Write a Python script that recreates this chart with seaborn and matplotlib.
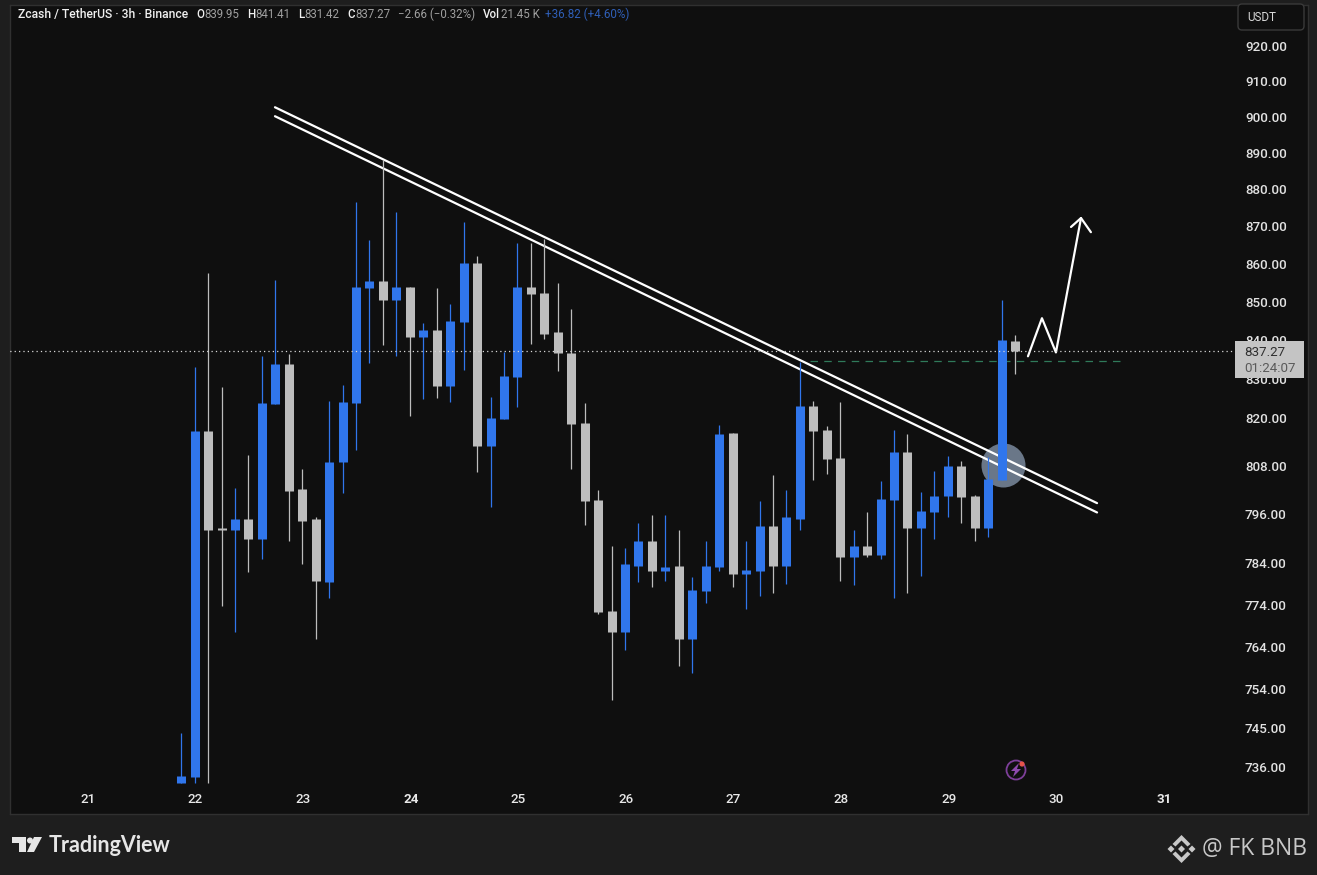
#!/usr/bin/env python3
import matplotlib
matplotlib.use("Agg")
import matplotlib.pyplot as plt
import numpy as np
import pandas as pd
import seaborn as sns
from matplotlib.patches import Circle, FancyBboxPatch, Polygon, Rectangle
from matplotlib.transforms import Affine2D

# 3h candles, day of month as a decimal
days = [21.875, 22.0, 22.125, 22.25, 22.375, 22.5, 22.625, 22.75, 22.875, 23.0, 23.125, 23.25, 23.375,
        23.5, 23.625, 23.75, 23.875, 24.0, 24.125, 24.25, 24.375, 24.5, 24.625, 24.75, 24.875, 25.0,
        25.125, 25.25, 25.375, 25.5, 25.625, 25.75, 25.875, 26.0, 26.125, 26.25, 26.375, 26.5, 26.625,
        26.75, 26.875, 27.0, 27.125, 27.25, 27.375, 27.5, 27.625, 27.75, 27.875, 28.0, 28.125, 28.25,
        28.375, 28.5, 28.625, 28.75, 28.875, 29.0, 29.125, 29.25, 29.375, 29.5, 29.625]
opens = [732.6, 734.0, 816.8, 792.6, 792.1, 794.8, 789.9, 823.6, 833.8, 802.3, 794.8, 779.5, 809.0,
         823.8, 853.7, 855.5, 850.5, 853.9, 841.0, 842.6, 828.2, 844.7, 860.3, 813.0, 819.8, 830.5,
         853.9, 852.4, 842.1, 836.7, 818.8, 799.5, 772.6, 767.6, 783.5, 789.6, 782.1, 783.5, 765.9,
         777.3, 783.3, 816.3, 781.6, 782.3, 793.1, 783.5, 795.0, 823.1, 817.0, 810.0, 785.5, 788.4,
         786.0, 799.5, 811.5, 792.8, 796.5, 800.5, 808.0, 800.5, 792.8, 804.5, 839.95]
highs = [744.1, 833.1, 857.6, 827.9, 802.5, 810.8, 835.9, 855.8, 836.4, 807.3, 795.5, 824.4, 828.5,
         876.8, 866.5, 888.1, 874.0, 853.9, 844.5, 853.7, 849.5, 871.4, 862.2, 825.4, 836.9, 865.7,
         865.7, 866.8, 855.0, 848.2, 823.8, 802.0, 788.2, 787.9, 794.0, 795.8, 795.8, 792.1, 780.7,
         789.6, 818.3, 816.3, 789.6, 799.3, 805.8, 802.0, 834.4, 824.4, 818.0, 824.1, 792.1, 796.5,
         804.3, 817.0, 816.0, 801.5, 806.8, 810.5, 809.3, 800.8, 810.3, 850.5, 841.41]
lows = [732.6, 732.6, 732.6, 773.8, 767.6, 781.9, 785.0, 823.6, 789.6, 784.0, 765.9, 775.7, 801.3,
        812.0, 834.1, 838.7, 835.9, 820.5, 825.0, 825.1, 824.1, 832.3, 806.5, 797.8, 819.8, 822.8,
        839.0, 840.5, 832.0, 807.3, 793.3, 771.9, 751.7, 763.3, 779.5, 778.3, 779.7, 759.6, 758.0,
        774.5, 782.1, 778.3, 773.0, 776.2, 776.9, 779.0, 792.1, 804.5, 806.0, 779.7, 778.8, 785.5,
        785.2, 775.7, 776.9, 780.9, 790.1, 795.5, 794.0, 789.4, 790.4, 804.5, 831.42]
closes = [734.2, 816.8, 792.3, 792.1, 794.8, 789.9, 823.8, 833.8, 801.8, 794.5, 779.7, 809.0, 824.1,
          853.9, 855.5, 850.5, 853.9, 841.0, 842.6, 828.2, 845.0, 860.3, 813.0, 820.0, 830.8, 853.9,
          852.1, 841.8, 836.7, 818.5, 799.3, 772.3, 767.6, 783.8, 789.4, 782.1, 783.3, 765.9, 777.6,
          783.5, 816.0, 781.6, 782.5, 793.1, 783.5, 795.3, 823.1, 816.8, 809.8, 785.7, 788.4, 786.2,
          799.8, 811.5, 792.8, 796.8, 800.5, 808.0, 800.3, 792.8, 804.8, 840.0, 837.27]

price_ticks = [920, 910, 900, 890, 880, 870, 860, 850, 840, 830, 820, 808, 796, 784, 774, 764, 754, 745, 736]
day_ticks = [21, 22, 23, 24, 25, 26, 27, 28, 29, 30, 31]

# drawings on the chart
trend_days = [22.747, 30.387]
trend_upper = [902.8, 798.8]
trend_lower = [900.3, 796.5]
path_days = [29.745, 29.875, 30.005, 30.238]
path_prices = [835.9, 845.8, 836.9, 872.4]
head_days = [30.145, 30.238, 30.33]
head_prices = [870.0, 872.4, 868.6]
level_days = [27.72, 30.63]
level_price = 834.6
last_price = 837.27
last_days = [20.2, 31.65]
circle_day = 29.51
circle_price = 808.2

BG = "#0f0f0f"
FRAME = "#1e1e1e"
BLUE = "#3076ec"
GREY = "#bdbdbd"

sns.set_theme(style="dark", rc={"axes.facecolor": BG, "figure.facecolor": FRAME})
plt.rcParams["font.family"] = ["Roboto", "DejaVu Sans"]

fig = plt.figure(figsize=(13.17, 8.75), dpi=100, facecolor=FRAME)
# pixel coordinates of the screenshot, for furniture only
px = Affine2D().scale(1, -1).translate(0, 875)
ax = fig.add_axes([10 / 1317, 1 - 814 / 875, 1298 / 1317, 809 / 875])
ax.set_yscale("log")

candles = pd.DataFrame({"day": days, "open": opens, "high": highs, "low": lows, "close": closes})
candles["candle"] = candles.index
candles["side"] = np.where(candles["close"] >= candles["open"], "up", "down")
candles["top"] = candles[["open", "close"]].max(axis=1)
candles["bottom"] = candles[["open", "close"]].min(axis=1)
wicks = candles.melt(id_vars=["day", "candle", "side"], value_vars=["low", "high"], value_name="price")
bodies = candles.melt(id_vars=["day", "candle", "side"], value_vars=["bottom", "top"], value_name="price")
palette = {"up": BLUE, "down": GREY}

sns.scatterplot(x=[circle_day], y=[circle_price], s=1005, color="#6a7788", linewidth=0, ax=ax, zorder=1)
for series in (trend_upper, trend_lower):
    sns.lineplot(x=trend_days, y=series, color="white", linewidth=1.6, estimator=None, sort=False, ax=ax, zorder=2)
sns.lineplot(x=path_days, y=path_prices, color="white", linewidth=1.6, estimator=None, sort=False, ax=ax, zorder=2)
sns.lineplot(x=head_days, y=head_prices, color="white", linewidth=1.6, estimator=None, sort=False, ax=ax, zorder=2)
ax.plot(level_days, [level_price, level_price], color="#2f7a5a", linewidth=0.9, dashes=(6, 5), zorder=2)

sns.lineplot(data=wicks, x="day", y="price", units="candle", hue="side", palette=palette, estimator=None,
             sort=False, legend=False, linewidth=0.9, solid_capstyle="butt", ax=ax, zorder=3)
sns.lineplot(data=bodies, x="day", y="price", units="candle", hue="side", palette=palette, estimator=None,
             sort=False, legend=False, linewidth=6.5, solid_capstyle="butt", ax=ax, zorder=4)
ax.plot(last_days, [last_price, last_price], color="#d8d8d8", linewidth=0.9, dashes=(1, 2.5), zorder=5)

ax.set_xlim(21 + (10 - 87) / 107.6, 21 + (1308 - 87) / 107.6)
ax.set_ylim(725.6, 931.8)
ax.set_xlabel("")
ax.set_ylabel("")
ax.grid(False)
ax.yaxis.tick_right()
ax.set_yticks(price_ticks, [f"{p:.2f}" for p in price_ticks])
ax.minorticks_off()
ax.set_xticks(day_ticks, [str(d) for d in day_ticks])
# pads are in points: labels sit inside the panel like the TradingView scales
ax.tick_params(axis="y", length=0, pad=-45.4, labelsize=9.6, labelcolor="#e2e2e2")
ax.tick_params(axis="x", length=0, pad=-15, labelsize=9.6, labelcolor="#e8e8e8")
for label in ax.get_yticklabels():
    label.set_fontweight("medium")
    label.set_horizontalalignment("left")
    label.set_transform(label.get_transform() + Affine2D().translate(0, 0.5))
for label in ax.get_xticklabels():
    label.set_fontweight("bold" if label.get_text() in ("24", "31") else "medium")
    label.set_transform(label.get_transform() + Affine2D().translate(1, 0))
for spine in ax.spines.values():
    spine.set_color("#303030")
    spine.set_linewidth(1)

# header
header = [(18, "Zcash / TetherUS · 3h · Binance", "#f0f0f0", 8.7), (196, "O", "#f0f0f0", 8.3), (204, "839.95", "#a0a0a0", 8.3),
          (247, "H", "#f0f0f0", 8.3), (255, "841.41", "#a0a0a0", 8.3), (298, "L", "#f0f0f0", 8.3), (304, "831.42", "#a0a0a0", 8.3),
          (347, "C", "#f0f0f0", 8.3), (355, "837.27", "#a0a0a0", 8.3), (398, "−2.66 (−0.32%)", "#a0a0a0", 8.3),
          (483, "Vol", "#f0f0f0", 8.3), (501, "21.45 K", "#a0a0a0", 8.3), (545, "+36.82 (+4.60%)", "#2f5fb8", 8.4)]
for x, s, c, size in header:
    fig.text(x, 14.5, s, transform=px, color=c, fontsize=size, va="center", ha="left",
             fontweight="medium" if c == "#f0f0f0" else "normal")

# scale button
fig.add_artist(FancyBboxPatch((1238, 4), 66, 26, boxstyle="round,pad=0,rounding_size=4", transform=px,
                              facecolor=BG, edgecolor="#3a3a3a", linewidth=1))
fig.text(1247, 17.5, "USDT", transform=px, color="#d8d8d8", fontsize=8.4, va="center", ha="left")

# last price tag
fig.add_artist(Rectangle((1235, 341), 69, 37, transform=px, facecolor="#c4c4c4", edgecolor="none", zorder=5))
fig.text(1244, 352, "837.27", transform=px, color="#303030", fontsize=9.6, va="center", ha="left", zorder=6)
fig.text(1244, 368, "01:24:07", transform=px, color="#5a5a5a", fontsize=9.6, va="center", ha="left", zorder=6)

# lightning badge
fig.add_artist(Circle((1016, 770), 9.5, transform=px, facecolor="none", edgecolor="#7d3f99", linewidth=1.3, zorder=6))
fig.add_artist(Polygon([(1019, 763), (1011, 771), (1015, 771), (1013, 777), (1021, 769), (1017, 769)], closed=True,
                       transform=px, facecolor="#8e4aad", edgecolor="none", zorder=6))
fig.add_artist(Circle((1022, 764), 2.6, transform=px, facecolor="#e5534b", edgecolor="none", zorder=7))

# TradingView mark
logo = "#e6e6e6"
fig.add_artist(Polygon([(12, 837), (26, 837), (26, 852), (19, 852), (19, 843), (12, 843)], closed=True,
                       transform=px, facecolor=logo, edgecolor="none"))
fig.add_artist(Circle((30, 840.5), 3, transform=px, facecolor=logo, edgecolor="none"))
fig.add_artist(Polygon([(34, 837), (42, 837), (34, 852), (27, 852)], closed=True,
                       transform=px, facecolor=logo, edgecolor="none"))
fig.text(49, 845, "TradingView", transform=px, color=logo, fontsize=15.5, fontweight="bold", va="center",
         ha="left", family=["Lato", "DejaVu Sans"])

# Binance mark and signature
mark = "#c8c8c8"
cx, cy = 1181.5, 849
diamonds = [[(cx, cy - 3.5), (cx + 3.5, cy), (cx, cy + 3.5), (cx - 3.5, cy)],
            [(cx - 14, cy), (cx - 10.5, cy - 3.5), (cx - 7, cy), (cx - 10.5, cy + 3.5)],
            [(cx + 14, cy), (cx + 10.5, cy - 3.5), (cx + 7, cy), (cx + 10.5, cy + 3.5)],
            [(cx, cy - 14), (cx + 9, cy - 5), (cx + 6, cy - 2.5), (cx, cy - 8.5), (cx - 6, cy - 2.5), (cx - 9, cy - 5)],
            [(cx, cy + 14), (cx + 9, cy + 5), (cx + 6, cy + 2.5), (cx, cy + 8.5), (cx - 6, cy + 2.5), (cx - 9, cy + 5)]]
for d in diamonds:
    fig.add_artist(Polygon(d, closed=True, transform=px, facecolor=mark, edgecolor="none"))
fig.text(1202, 849, "@ FK BNB", transform=px, color=mark, fontsize=16.5, va="center", ha="left",
         family=["Open Sans", "DejaVu Sans"])

fig.savefig("out.png", dpi=100, facecolor=FRAME)
